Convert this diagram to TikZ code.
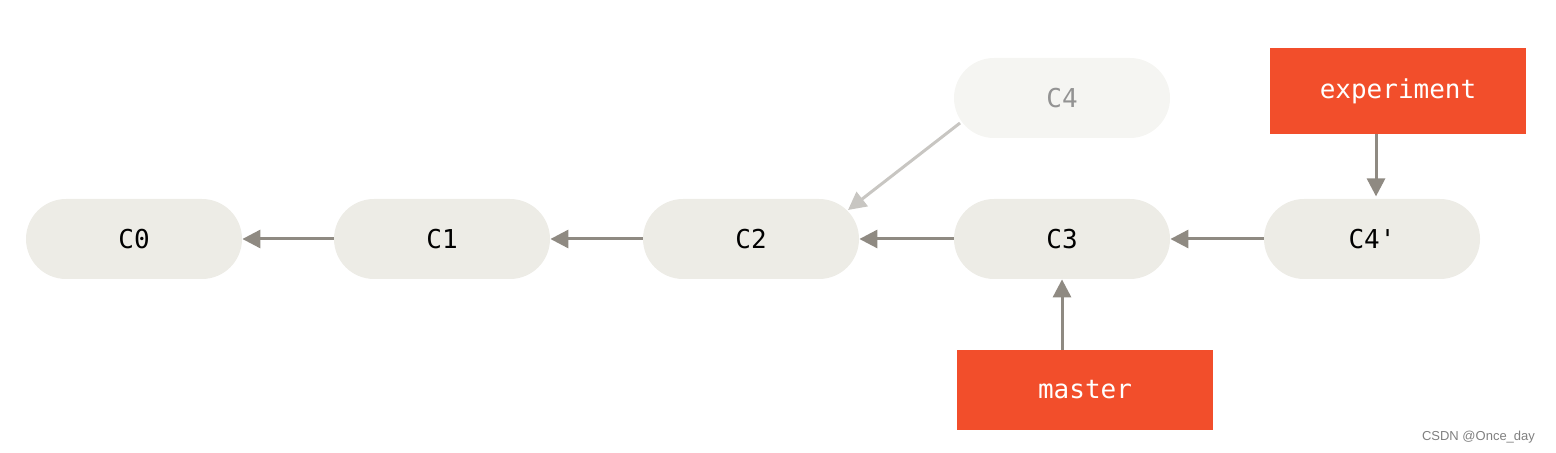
\documentclass[tikz,border=0pt]{standalone}
\usepackage{fontspec}
\setmonofont{DejaVu Sans Mono}
\setsansfont{Liberation Sans}
\usetikzlibrary{arrows.meta}
\definecolor{cfill}{HTML}{EDECE6}
\definecolor{cfaint}{HTML}{F5F5F2}
\definecolor{arr}{HTML}{8F8A82}
\definecolor{arrl}{HTML}{C8C6C2}
\definecolor{rd}{HTML}{F24E2B}
\tikzset{
  commit/.style={fill=cfill,rounded corners=20pt,minimum width=108pt,minimum height=40pt,font=\ttfamily\fontsize{13}{15}\selectfont,text=black},
  ghost/.style={commit,fill=cfaint,text=gray!85},
  branch/.style={fill=rd,minimum width=128pt,minimum height=43pt,font=\ttfamily\fontsize{13}{15}\selectfont,text=white},
  link/.style={-{Triangle[length=9pt,width=9pt]},line width=1.5pt,draw=arr},
  linkl/.style={link,draw=arrl}
}
\begin{document}
\begin{tikzpicture}[x=0.5pt,y=-0.5pt]
\useasboundingbox (0,0) rectangle (1556,453);
\node[commit] (c0) at (134,239) {C0};
\node[commit] (c1) at (442,239) {C1};
\node[commit] (c2) at (751,239) {C2};
\node[commit] (c3) at (1062,239) {C3};
\node[commit] (c4p) at (1372,239) {C4'};
\node[ghost] (c4) at (1062,98) {C4};
\node[branch] (exp) at (1398,91) {experiment};
\node[branch,minimum height=40pt] (mas) at (1085,390) {master};
\draw[link] (c1.west) -- (c0.east);
\draw[link] (c2.west) -- (c1.east);
\draw[link] (c3.west) -- (c2.east);
\draw[link] (c4p.west) -- (c3.east);
\draw[linkl] (c4) ++(-102,25) coordinate (s) (s) -- (848,210) coordinate (t);
\draw[link] (exp.south -| c4p.north) ++(4,0) coordinate (e1) (e1) -- ++(0,62);
\draw[link] (mas.north -| c3.south) -- (c3.south);
\node[font=\sffamily\fontsize{6.5}{7}\selectfont,text=gray,anchor=east] (wm) at (1542,437) {CSDN @Once\_day};
\end{tikzpicture}
\end{document}
